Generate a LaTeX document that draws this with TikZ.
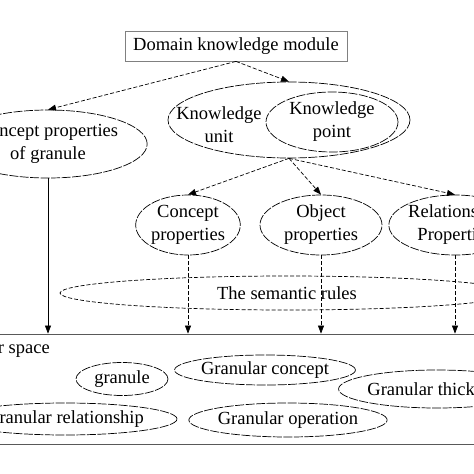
\documentclass[tikz,border=0pt]{standalone}
\usepackage{fontspec}
\setmainfont{Liberation Serif}
\usetikzlibrary{shapes.geometric,arrows.meta}
\tikzstyle{every node}=[font=\fontsize{18.5}{23}\selectfont,align=center,inner sep=0pt]
\tikzstyle{oval}=[draw=black,ellipse,line width=0.7pt,dash pattern=on 9pt off 1.5pt]
\tikzstyle{rule}=[draw=black,ellipse,line width=0.7pt,dash pattern=on 4pt off 2pt]
\tikzstyle{link}=[-{Triangle[length=8pt,width=6pt]},line width=0.7pt,dash pattern=on 4pt off 2pt]
\tikzstyle{feed}=[-{Triangle[length=8pt,width=6pt]},line width=0.7pt]

\begin{document}
\begin{tikzpicture}[x=1pt,y=-1pt]
    \useasboundingbox (0,0) rectangle (474,474);
    \clip (0,0) rectangle (474,474);
    \node [draw=gray,line width=0.8pt,minimum width=222pt,minimum height=30pt] (domain) at (236,46) {Domain knowledge module};
    \node [oval,minimum width=192pt,minimum height=68pt] (granprop) at (48,144) {Concept properties\\of granule};
    \node [oval,minimum width=242pt,minimum height=76pt] (unit) at (289,120) {};
    \node [oval,minimum width=132pt,minimum height=60pt] (point) at (332,122) {Knowledge\\point};
    \node (unitlabel) at (219,125) {Knowledge\\unit};
    \node [oval,minimum width=104pt,minimum height=60pt] (conprop) at (188,225) {Concept\\properties};
    \node [oval,minimum width=122pt,minimum height=60pt] (objprop) at (321,225) {Object\\properties};
    \node [oval,minimum width=130pt,minimum height=60pt] (relprop) at (455,225) {Relationship\\Properties};
    \node [rule,minimum width=454pt,minimum height=34pt] (rules) at (287,293) {The semantic rules};
    \node [draw=gray!70!black,line width=0.8pt,minimum width=500pt,minimum height=110pt] (space) at (237,389) {};
    \node [anchor=east] (spacelabel) at (50,349) {Granular space};
    \node [oval,minimum width=92pt,minimum height=33pt] (granule) at (122,379) {granule};
    \node [oval,minimum width=176pt,minimum height=30pt] (concept) at (265,370) {Granular concept};
    \node [oval,minimum width=180pt,minimum height=38pt] (thick) at (437,389) {Granular thickness};
    \node [oval,minimum width=224pt,minimum height=32pt] (relation) at (65,419) {Granular relationship};
    \node [oval,minimum width=192pt,minimum height=34pt] (operation) at (288,420) {Granular operation};
    \draw [link] (domain.south) -- (granprop.north);
    \draw [link] (domain.south) -- (unit.north);
    \draw [link] (unit.south) -- (conprop.north);
    \draw [link] (unit.south) -- (objprop.north);
    \draw [link] (unit.south) -- (relprop.north);
    \draw [feed] (granprop.south) -- (granprop.south |- space.north);
    \draw [link] (conprop.south) -- (conprop.south |- space.north);
    \draw [link] (objprop.south) -- (objprop.south |- space.north);
    \draw [link] (relprop.south) -- (relprop.south |- space.north);
\end{tikzpicture}
\end{document}
